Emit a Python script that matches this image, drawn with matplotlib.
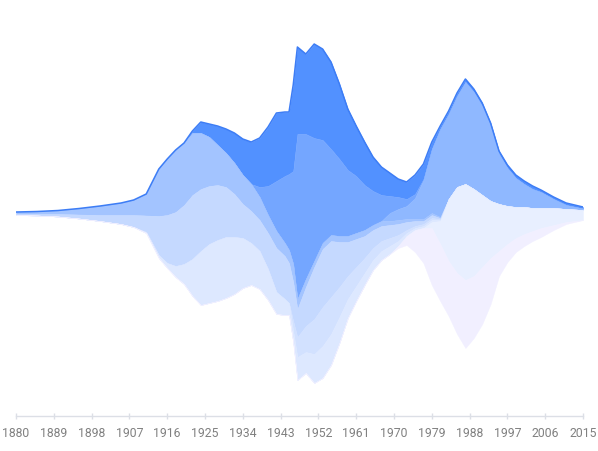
import numpy as np
import matplotlib
matplotlib.use("Agg")
import matplotlib.pyplot as plt

years = [1880, 1885, 1890, 1895, 1900, 1905, 1908, 1911, 1914, 1916, 1918, 1920,
         1922, 1924, 1926, 1928, 1930, 1932, 1934, 1936, 1938, 1940, 1942, 1944,
         1945, 1946, 1947, 1949, 1951, 1953, 1955, 1957, 1959, 1961, 1963, 1965,
         1967, 1969, 1971, 1973, 1975, 1977, 1979, 1981, 1983, 1985, 1987, 1989,
         1991, 1993, 1995, 1997, 1999, 2001, 2003, 2005, 2008, 2011, 2015]

# series thickness values (stack order: top -> bottom)
s1 = [0, 0, 0, 0, 0, 0, 0, 0, 0, 0, 0, 0,
      2, 11, 13, 19, 24, 30, 36, 42, 49, 59, 68, 64,
      62, 86, 87, 80, 94, 91, 87, 75, 61, 50, 43, 34,
      28, 23, 18, 17, 19, 15, 7, 3, 3, 3, 3, 3,
      3, 3, 3, 3, 3, 3, 3, 2, 2, 2, 1.5]
s2 = [0, 0, 0, 0, 0, 0, 0, 0, 0, 0, 0, 0,
      0, 0, 0, 0, 0, 0, 0, 0, 10, 29, 50, 67,
      76, 93, 165, 145, 123, 103, 86, 77, 66, 57, 45, 34,
      26, 17, 12, 7, 4, 1, 0, 0, 0, 0, 0, 0,
      0, 0, 0, 0, 0, 0, 0, 0, 0, 0, 0]
s3 = [0, 0, 0, 0, 0, 0, 0, 0, 0, 0, 0, 0,
      0, 0, 0, 0, 0, 0, 0, 0, 0, 0, 0, 0,
      0, 0, 0, 0, 0, 0, 0, 0, 0, 0, 0, 0,
      0, 8, 11, 13, 21, 39, 64, 88, 85, 91, 102, 97,
      89, 75, 50, 38, 29, 23, 19, 16, 9, 4, 1.5]
s4 = [2, 2.5, 3.5, 6, 9, 12, 15, 21.5, 47, 56, 62, 62,
      62, 56, 49, 40, 34, 31, 29, 27, 23, 18, 17, 13,
      13, 18, 10, 8, 6, 6, 6, 6, 6, 6, 6, 5,
      5, 4, 4, 3, 2, 2, 2, 1, 0, 0, 0, 0,
      0, 0, 0, 0, 0, 0, 0, 0, 0, 0, 0]
s5 = [1, 1.5, 2.5, 4, 6, 9, 12, 16.5, 39, 48, 54, 59,
      64, 62, 58, 55, 50, 43, 34, 32, 31, 36, 44, 43,
      40, 39, 28, 39, 52, 58, 56, 45, 34, 28, 22, 18,
      15, 13, 11, 8, 5, 3, 3, 1, 0, 0, 0, 0,
      0, 0, 0, 0, 0, 0, 0, 0, 0, 0, 0]
s6 = [0, 0, 0, 0, 0, 0, 0, 0, 0, 0, 0, 0,
      0, 0, 0, 0, 0, 0, 0, 0, 0, 0, 0, 0,
      0, 10, 20, 26, 35, 39, 37, 30, 23, 19, 15, 12,
      10, 8, 6, 3, 2, 2, 2, 1, 0, 0, 0, 0,
      0, 0, 0, 0, 0, 0, 0, 0, 0, 0, 0]
s7 = [0, 0, 0, 0, 0, 0, 0, 1, 3, 5, 11, 20,
      37, 54, 59, 61, 61, 57, 50, 42, 38, 31, 22, 16,
      12, 11, 23, 21, 29, 32, 31, 26, 19, 15, 12, 10,
      9, 8, 5, 3, 2, 2, 2, 1, 0, 0, 0, 0,
      0, 0, 0, 0, 0, 0, 0, 0, 0, 0, 0]
s8 = [0, 0, 0, 0, 0, 0, 0, 0, 0, 0, 0, 0,
      0, 0, 0, 0, 0, 0, 0, 0, 0, 0, 0, 0,
      0, 0, 0, 0, 0, 0, 0, 0, 0, 0, 0, 0,
      0, 0, 0, 0, 0, 0, 6, 23, 62, 86, 96, 87,
      72, 57, 47, 38, 31, 27, 23, 20, 17, 13, 10]
s9 = [0, 0, 0, 0, 0, 0, 0, 0, 0, 0, 0, 0,
      0, 0, 0, 0, 0, 0, 0, 0, 0, 0, 0, 0,
      0, 0, 0, 0, 0, 0, 0, 0, 0, 0, 0, 0,
      0, 0, 2, 9, 22, 35, 57, 57, 55, 61, 68, 62,
      57, 46, 25, 18, 14, 12, 10, 9, 5, 2, 0]

series = [s1, s2, s3, s4, s5, s6, s7, s8, s9]
colors = ["#5291FF", "#74A6FF", "#8FB8FF", "#A3C4FF", "#C5D9FF",
          "#D2E1FF", "#DDE8FF", "#E8EFFF", "#F1EFFF"]
tick_years = list(range(1880, 2016, 9))

W, H = 598, 452
fig = plt.figure(figsize=(W / 100, H / 100), dpi=100)
ax = fig.add_axes([16 / W, (H - 417) / H, 567 / W, 417 / H])

x = np.array(years, dtype=float)
vals = np.array(series, dtype=float)
total = vals.sum(axis=0)
top = total / 2.0
cur = top.copy()
for v, c in zip(vals, colors):
    lower = cur - v
    ax.fill_between(x, lower, cur, facecolor=c, edgecolor=c, linewidth=0.3, zorder=2)
    cur = lower
ax.plot(x, top, color="#3D7DF5", linewidth=1.1, zorder=3, solid_joinstyle="round")

ax.set_xlim(1880, 2015)
ax.set_ylim(214.5 - 417, 214.5)
for s in ["top", "left", "right"]:
    ax.spines[s].set_visible(False)
ax.spines["bottom"].set_color("#DCDFE6")
ax.spines["bottom"].set_linewidth(1)
ax.set_yticks([])
ax.set_xticks(tick_years)
ax.set_xticklabels([str(t) for t in tick_years], fontfamily="Roboto", fontsize=8.8, color="#808080")
ax.tick_params(axis="x", direction="inout", length=5, width=1, color="#DCDFE6", pad=5)
ax.patch.set_alpha(0)

fig.savefig("out.png", dpi=100)
